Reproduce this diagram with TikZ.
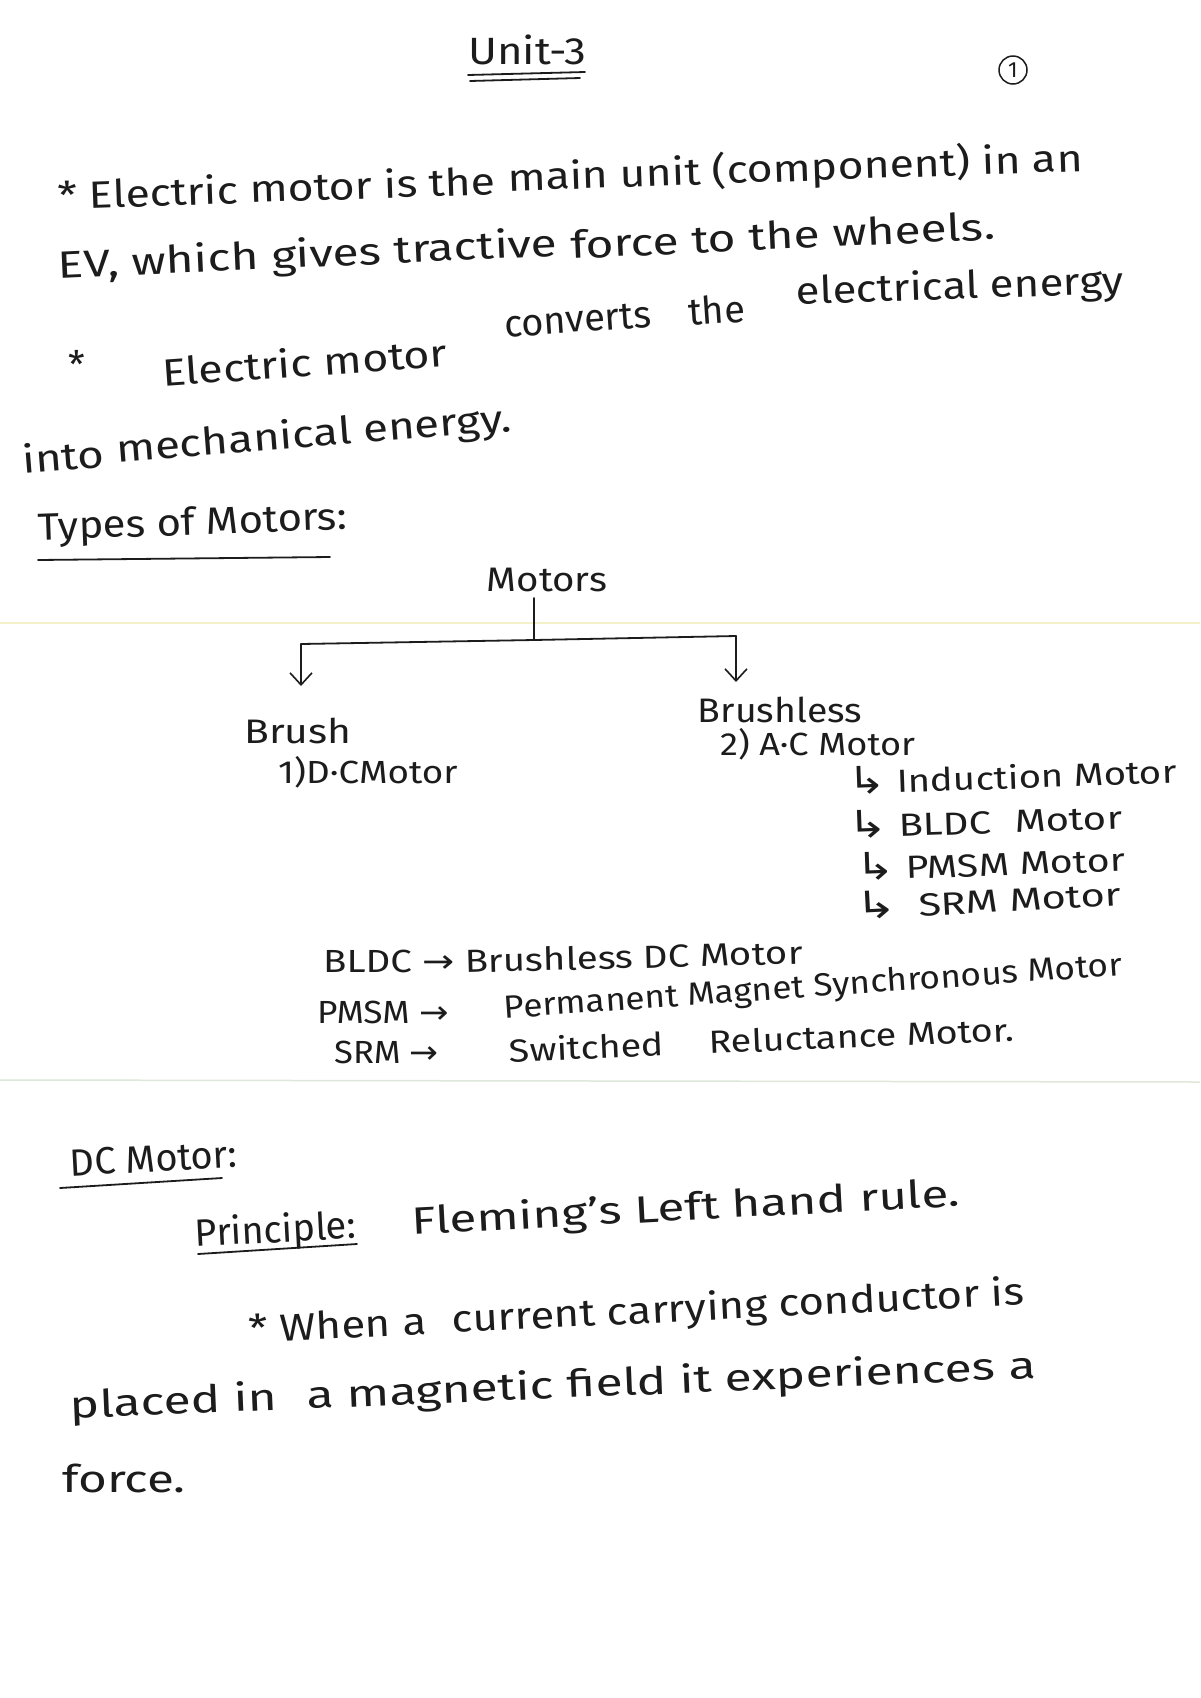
\documentclass[tikz,border=0pt]{standalone}
\usepackage{fontspec}
\usepackage{graphicx}
\setmainfont{Fira Sans}
\newfontfamily\symfont{DejaVu Sans}
\usetikzlibrary{arrows.meta}
\definecolor{inkc}{HTML}{1C1C1C}
\definecolor{scanA}{HTML}{F4F1C8}
\definecolor{scanB}{HTML}{DDE8DA}
\newcommand{\hw}[2]{\scalebox{#1}[1]{#2}}
\newcommand{\hook}{{\symfont\fontsize{38}{40}\selectfont ↳}}
\begin{document}
\begin{tikzpicture}[x=1pt,y=-1pt,
  txt/.style={font=\fontsize{38}{44}\selectfont, text=inkc, inner sep=0pt, anchor=west},
  smalltxt/.style={font=\fontsize{32}{38}\selectfont, text=inkc, inner sep=0pt, anchor=west},
  ctxt/.style={font=\fontsize{34}{40}\selectfont, text=inkc, inner sep=0pt},
  pen/.style={draw=inkc, line width=1.8pt, line cap=round, line join=round},
  arr/.style={pen, -{Straight Barb[length=12pt,width=22pt,line width=1.6pt]}}
]
\useasboundingbox (0,0) rectangle (1200,1698);
\fill[white] (0,0) rectangle (1200,1698);
\draw[scanA, line width=1.5pt] (0,623) -- (1200,623);
\draw[scanB, line width=1.5pt] (0,1080) -- (1200,1082);

% title
\node[ctxt, font=\fontsize{38}{44}\selectfont] (unit) at (527,50) {\hw{1.15}{Unit-3}};
\draw[pen] (468,75) -- (585,72);
\draw[pen] (470,81) -- (580,78);
\node[draw=inkc, line width=1.5pt, circle, minimum size=28pt, inner sep=0pt,
      font=\fontsize{22}{24}\selectfont, text=inkc] (pg) at (1013,70) {1};

% intro
\node[txt, rotate=2] (l1a) at (58,195) {\hw{1.17}{* Electric motor is the\ }};
\node[txt, rotate=2] (l1b) at (l1a.east) {\hw{1.17}{main unit (component) in an}};
\node[txt, rotate=2.6] (l2a) at (58,268) {\hw{1.26}{EV, which gives tractive\ }};
\node[txt, rotate=2.6] (l2b) at (l2a.east) {\hw{1.26}{force to the wheels.}};
\node[txt] (l3a) at (68,364) {*};
\node[txt, rotate=4] (l3b) at (162,372) {\hw{1.18}{Electric motor}};
\node[txt, rotate=4] (l3c) at (504,325) {converts};
\node[txt, rotate=4] (l3d) at (688,312) {the};
\node[txt, rotate=2] (l3e) at (796,294) {\hw{1.15}{electrical energy}};
\node[txt, rotate=4.5] (l4a) at (22,459) {\hw{1.2}{into\ }};
\node[txt, rotate=4.5] (l4b) at (l4a.east) {\hw{1.2}{mechanical energy.}};

% types of motors
\node[txt, rotate=2] (types) at (38,530) {\hw{1.1}{Types of Motors:}};
\draw[pen] (38,560) -- (330,557);
\node[ctxt] (motors) at (547,580) {\hw{1.13}{Motors}};
\coordinate (j) at (534,640);
\coordinate (lt) at (301,644);
\coordinate (rt) at (736,636);
\coordinate (la) at (301,686);
\coordinate (ra) at (736,682);
\draw[pen] (motors.south -| j) ++(0,6) coordinate (ms) -- (j);
\draw[pen] (lt) -- (j) -- (rt);
\draw[arr] (lt) -- (la);
\draw[arr] (rt) -- (ra);
\node[ctxt] (brush) at (298,731) {\hw{1.2}{Brush}};
\node[smalltxt] (dc) at (278,772) {\hw{1.15}{1)D·CMotor}};
\node[ctxt] (brushless) at (780,710) {\hw{1.1}{Brushless}};
\node[smalltxt] (ac) at (720,744) {\hw{1.13}{2) A·C Motor}};
\node[smalltxt, rotate=2] (im) at (848,781) {\hw{1.2}{\hook\ Induction Motor}};
\node[smalltxt, rotate=2] (bl) at (848,825) {\hw{1.25}{\hook\ BLDC\hspace{0.6em}Motor}};
\node[smalltxt, rotate=2] (pm) at (856,867) {\hw{1.23}{\hook\ PMSM Motor}};
\node[smalltxt, rotate=3] (sr) at (856,906) {\hw{1.3}{\hook\hspace{0.5em}SRM Motor}};

% abbreviations
\node[smalltxt] (ab1) at (323,961) {\hw{1.2}{BLDC {\symfont →}\ }};
\node[smalltxt, rotate=1.5] (ab1b) at (ab1.east) {\hw{1.2}{Brushless DC Motor}};
\node[smalltxt] (ab2) at (317,1012) {\hw{1.1}{PMSM {\symfont →}}};
\node[smalltxt, rotate=4] (ab2b) at (504,1010) {\hw{1.1}{Permanent Magnet Synchronous Motor}};
\node[smalltxt] (ab3) at (334,1052) {\hw{1.08}{SRM {\symfont →}}};
\node[smalltxt, rotate=2.4] (ab3b) at (509,1050) {\hw{1.18}{Switched\hspace{1.2em}Reluctance Motor.}};

% DC motor
\node[txt, rotate=3] (dcm) at (70,1163) {DC Motor:};
\draw[pen] (60,1188) -- (222,1178);
\node[txt, rotate=3] (pr) at (195,1236) {Principle:};
\draw[pen] (198,1254) -- (357,1244);
\node[txt, rotate=3] (fl) at (412,1224) {\hw{1.3}{Fleming's Left hand rule.}};
\node[txt, rotate=2.8] (w1) at (249,1332) {\hw{1.15}{* When a\hspace{0.6em}current carrying conductor is}};
\node[txt, rotate=2.4] (w2) at (70,1408) {\hw{1.31}{placed in\hspace{0.6em}a magnetic field it experiences a}};
\node[txt] (w3) at (62,1478) {\hw{1.3}{force.}};
\end{tikzpicture}
\end{document}
